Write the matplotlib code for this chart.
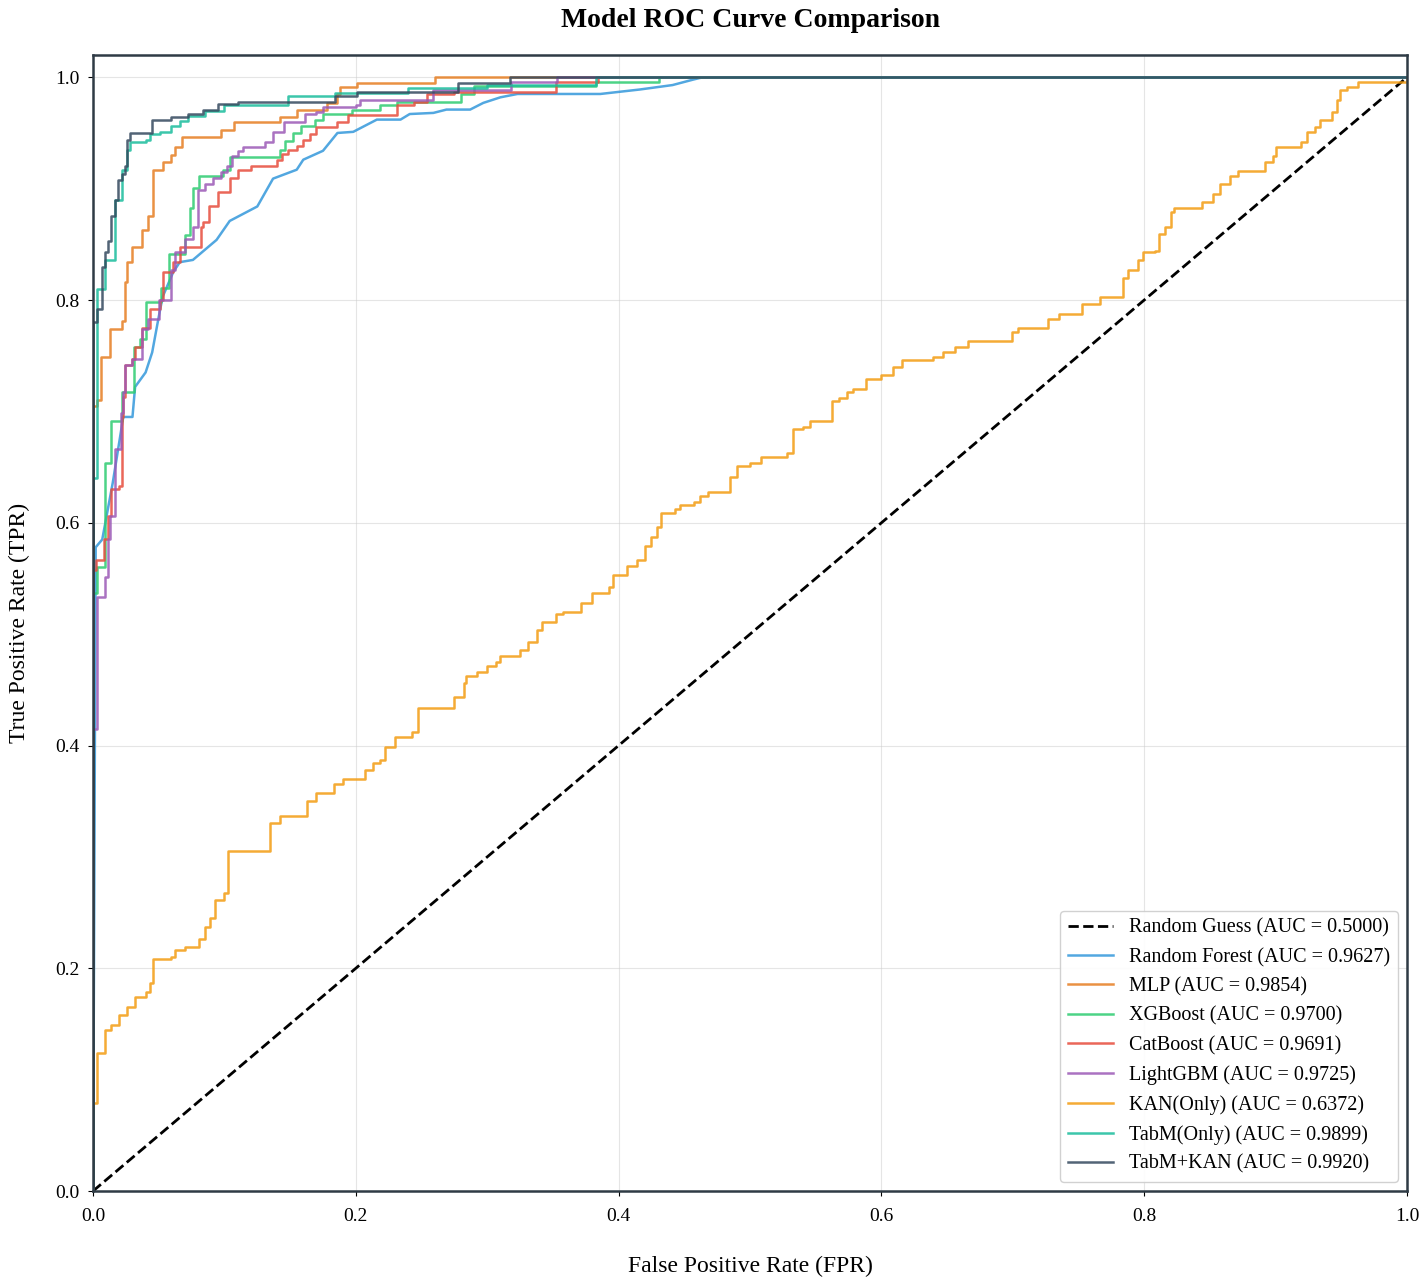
import matplotlib.pyplot as plt

plt.rcParams['font.family'] = ['Liberation Serif', 'DejaVu Serif']

# ROC points (fpr, tpr)
rf_fpr = [0, 0.002, 0.007, 0.015, 0.023, 0.030, 0.032, 0.040, 0.045, 0.050, 0.053, 0.061, 0.066,
          0.076, 0.079, 0.094, 0.104, 0.125, 0.137, 0.155, 0.160, 0.175, 0.186, 0.198, 0.216,
          0.234, 0.241, 0.259, 0.269, 0.287, 0.297, 0.310, 0.323, 0.386, 0.416, 0.441, 0.457,
          0.464, 1.0]
rf_tpr = [0, 0.578, 0.585, 0.636, 0.695, 0.695, 0.722, 0.735, 0.753, 0.785, 0.803, 0.825, 0.834,
          0.836, 0.839, 0.854, 0.871, 0.884, 0.909, 0.917, 0.926, 0.934, 0.950, 0.951, 0.962,
          0.962, 0.967, 0.968, 0.971, 0.971, 0.977, 0.982, 0.985, 0.985, 0.989, 0.993, 0.998,
          1.0, 1.0]

mlp_fpr = [0, 0, 0.003, 0.006, 0.013, 0.022, 0.024, 0.026, 0.030, 0.037, 0.042, 0.046, 0.053,
           0.059, 0.062, 0.068, 0.097, 0.107, 0.142, 0.155, 0.178, 0.186, 0.188, 0.201, 0.260, 1.0]
mlp_tpr = [0, 0.705, 0.710, 0.749, 0.774, 0.781, 0.816, 0.834, 0.848, 0.863, 0.875, 0.917, 0.924,
           0.930, 0.937, 0.946, 0.953, 0.960, 0.964, 0.971, 0.977, 0.985, 0.991, 0.995, 1.0, 1.0]

xgb_fpr = [0, 0, 0.003, 0.009, 0.009, 0.014, 0.022, 0.031, 0.036, 0.040, 0.052, 0.058, 0.070,
           0.074, 0.076, 0.081, 0.099, 0.104, 0.142, 0.146, 0.152, 0.158, 0.169, 0.175, 0.197,
           0.218, 0.231, 0.280, 0.290, 0.383, 0.431, 1.0]
xgb_tpr = [0, 0.537, 0.560, 0.588, 0.654, 0.691, 0.717, 0.758, 0.765, 0.798, 0.811, 0.841, 0.858,
           0.883, 0.901, 0.911, 0.917, 0.928, 0.935, 0.943, 0.950, 0.956, 0.962, 0.967, 0.971,
           0.975, 0.978, 0.985, 0.992, 0.996, 1.0, 1.0]

cat_fpr = [0, 0, 0.002, 0.008, 0.011, 0.014, 0.020, 0.022, 0.023, 0.024, 0.030, 0.032, 0.037,
           0.043, 0.051, 0.053, 0.061, 0.066, 0.082, 0.084, 0.088, 0.095, 0.104, 0.110, 0.120,
           0.140, 0.144, 0.148, 0.155, 0.160, 0.165, 0.170, 0.186, 0.194, 0.231, 0.244, 0.254,
           0.275, 0.352, 0.384, 1.0]
cat_tpr = [0, 0.558, 0.567, 0.585, 0.606, 0.630, 0.633, 0.695, 0.713, 0.742, 0.747, 0.758, 0.775,
           0.792, 0.800, 0.825, 0.834, 0.848, 0.866, 0.870, 0.884, 0.897, 0.910, 0.917, 0.920,
           0.926, 0.931, 0.935, 0.938, 0.944, 0.949, 0.955, 0.960, 0.966, 0.975, 0.978, 0.985,
           0.987, 0.996, 1.0, 1.0]

lgb_fpr = [0, 0, 0.003, 0.009, 0.011, 0.013, 0.017, 0.021, 0.023, 0.024, 0.030, 0.037, 0.042,
           0.050, 0.059, 0.062, 0.070, 0.076, 0.080, 0.085, 0.091, 0.097, 0.102, 0.106, 0.110,
           0.114, 0.131, 0.137, 0.145, 0.161, 0.170, 0.175, 0.200, 0.203, 0.259, 0.318, 0.353, 1.0]
lgb_tpr = [0, 0.415, 0.533, 0.551, 0.585, 0.606, 0.666, 0.699, 0.717, 0.742, 0.747, 0.774, 0.783,
           0.800, 0.827, 0.843, 0.855, 0.866, 0.899, 0.904, 0.910, 0.915, 0.920, 0.929, 0.934,
           0.937, 0.942, 0.951, 0.960, 0.967, 0.969, 0.973, 0.975, 0.980, 0.989, 0.996, 1.0, 1.0]

kan_fpr = [0, 0, 0.003, 0.009, 0.014, 0.020, 0.026, 0.032, 0.040, 0.043, 0.046, 0.059, 0.062,
           0.070, 0.081, 0.085, 0.089, 0.093, 0.100, 0.103, 0.135, 0.142, 0.163, 0.170, 0.183,
           0.190, 0.207, 0.213, 0.218, 0.222, 0.230, 0.243, 0.247, 0.275, 0.282, 0.284, 0.292,
           0.300, 0.307, 0.310, 0.325, 0.331, 0.338, 0.342, 0.352, 0.358, 0.371, 0.380, 0.393,
           0.396, 0.406, 0.414, 0.420, 0.425, 0.429, 0.432, 0.443, 0.447, 0.457, 0.462, 0.468,
           0.485, 0.490, 0.500, 0.508, 0.528, 0.533, 0.540, 0.546, 0.562, 0.568, 0.574, 0.578,
           0.588, 0.600, 0.609, 0.616, 0.639, 0.647, 0.656, 0.666, 0.699, 0.704, 0.727, 0.735,
           0.753, 0.766, 0.784, 0.788, 0.795, 0.799, 0.808, 0.811, 0.816, 0.820, 0.823, 0.844,
           0.852, 0.858, 0.865, 0.871, 0.892, 0.898, 0.900, 0.919, 0.924, 0.930, 0.934, 0.943,
           0.947, 0.949, 0.954, 0.963, 1.0]
kan_tpr = [0, 0.079, 0.124, 0.145, 0.149, 0.158, 0.165, 0.174, 0.179, 0.187, 0.208, 0.210, 0.216,
           0.219, 0.226, 0.237, 0.245, 0.261, 0.268, 0.305, 0.330, 0.337, 0.350, 0.357, 0.365,
           0.370, 0.378, 0.384, 0.387, 0.399, 0.408, 0.412, 0.434, 0.444, 0.456, 0.462, 0.466,
           0.471, 0.475, 0.480, 0.486, 0.493, 0.504, 0.511, 0.518, 0.520, 0.528, 0.537, 0.542,
           0.553, 0.561, 0.567, 0.579, 0.587, 0.596, 0.609, 0.612, 0.616, 0.619, 0.624, 0.628,
           0.641, 0.651, 0.654, 0.659, 0.663, 0.684, 0.686, 0.691, 0.709, 0.712, 0.717, 0.720,
           0.729, 0.733, 0.740, 0.746, 0.749, 0.753, 0.758, 0.763, 0.771, 0.775, 0.783, 0.787,
           0.796, 0.803, 0.820, 0.827, 0.836, 0.843, 0.844, 0.859, 0.866, 0.879, 0.883, 0.888,
           0.895, 0.904, 0.911, 0.916, 0.924, 0.929, 0.937, 0.942, 0.951, 0.955, 0.962, 0.969,
           0.980, 0.989, 0.991, 0.996, 1.0]

tabm_fpr = [0, 0, 0.003, 0.009, 0.017, 0.022, 0.026, 0.028, 0.040, 0.043, 0.051, 0.059, 0.066,
            0.072, 0.085, 0.100, 0.148, 0.184, 0.240, 0.300, 0.383, 1.0]
tabm_tpr = [0, 0.640, 0.810, 0.836, 0.890, 0.917, 0.935, 0.942, 0.944, 0.949, 0.951, 0.956, 0.961,
            0.965, 0.970, 0.975, 0.983, 0.986, 0.990, 0.993, 1.0, 1.0]

tk_fpr = [0, 0, 0.003, 0.007, 0.009, 0.011, 0.014, 0.017, 0.019, 0.022, 0.024, 0.026, 0.028,
          0.045, 0.059, 0.072, 0.084, 0.095, 0.110, 0.184, 0.201, 0.278, 0.317, 1.0]
tk_tpr = [0, 0.780, 0.792, 0.830, 0.843, 0.853, 0.875, 0.890, 0.908, 0.913, 0.920, 0.944, 0.950,
          0.962, 0.964, 0.967, 0.971, 0.976, 0.978, 0.983, 0.987, 0.995, 1.0, 1.0]

names = ['Random Forest', 'MLP', 'XGBoost', 'CatBoost', 'LightGBM', 'KAN(Only)', 'TabM(Only)', 'TabM+KAN']
aucs = [0.9627, 0.9854, 0.9700, 0.9691, 0.9725, 0.6372, 0.9899, 0.9920]
colors = ['#3498db', '#e67e22', '#2ecc71', '#e74c3c', '#9b59b6', '#f39c12', '#1abc9c', '#34495e']
curves = [(rf_fpr, rf_tpr), (mlp_fpr, mlp_tpr), (xgb_fpr, xgb_tpr), (cat_fpr, cat_tpr),
          (lgb_fpr, lgb_tpr), (kan_fpr, kan_tpr), (tabm_fpr, tabm_tpr), (tk_fpr, tk_tpr)]

fig = plt.figure(figsize=(14.25, 12.79), dpi=100)
ax = fig.add_axes([0.0653, 0.0688, 0.9221, 0.8882])

ax.plot([0, 1], [0, 1], 'k--', lw=2, label='Random Guess (AUC = 0.5000)')
for i, (name, auc, c, (x, y)) in enumerate(zip(names, aucs, colors, curves)):
    ds = 'default' if i == 0 else 'steps-post'
    ax.plot(x, y, color=c, lw=1.8, alpha=0.85, drawstyle=ds,
            label=name + ' (AUC = %.4f)' % auc)

ax.set_xlim(0, 1.0)
ax.set_ylim(0, 1.02)
ax.set_xticks([0, 0.2, 0.4, 0.6, 0.8, 1.0])
ax.set_yticks([0, 0.2, 0.4, 0.6, 0.8, 1.0])
ax.tick_params(labelsize=14)
ax.tick_params(axis='x', pad=9)
ax.tick_params(axis='y', pad=6)
ax.grid(True, color='#cccccc', alpha=0.5, lw=0.8)
for s in ax.spines.values():
    s.set_color('#2f3b45')
    s.set_linewidth(1.8)

ax.set_xlabel('False Positive Rate (FPR)', fontsize=17, labelpad=22)
ax.set_ylabel('True Positive Rate (TPR)', fontsize=17, labelpad=18)
ax.set_title('Model ROC Curve Comparison', fontsize=20, fontweight='bold', pad=20)

ax.legend(loc='lower right', fontsize=14.5, frameon=True, fancybox=True, framealpha=0.9,
          edgecolor='#cccccc', handlelength=2.2, borderaxespad=0.45)

fig.savefig('out.png', dpi=100)
